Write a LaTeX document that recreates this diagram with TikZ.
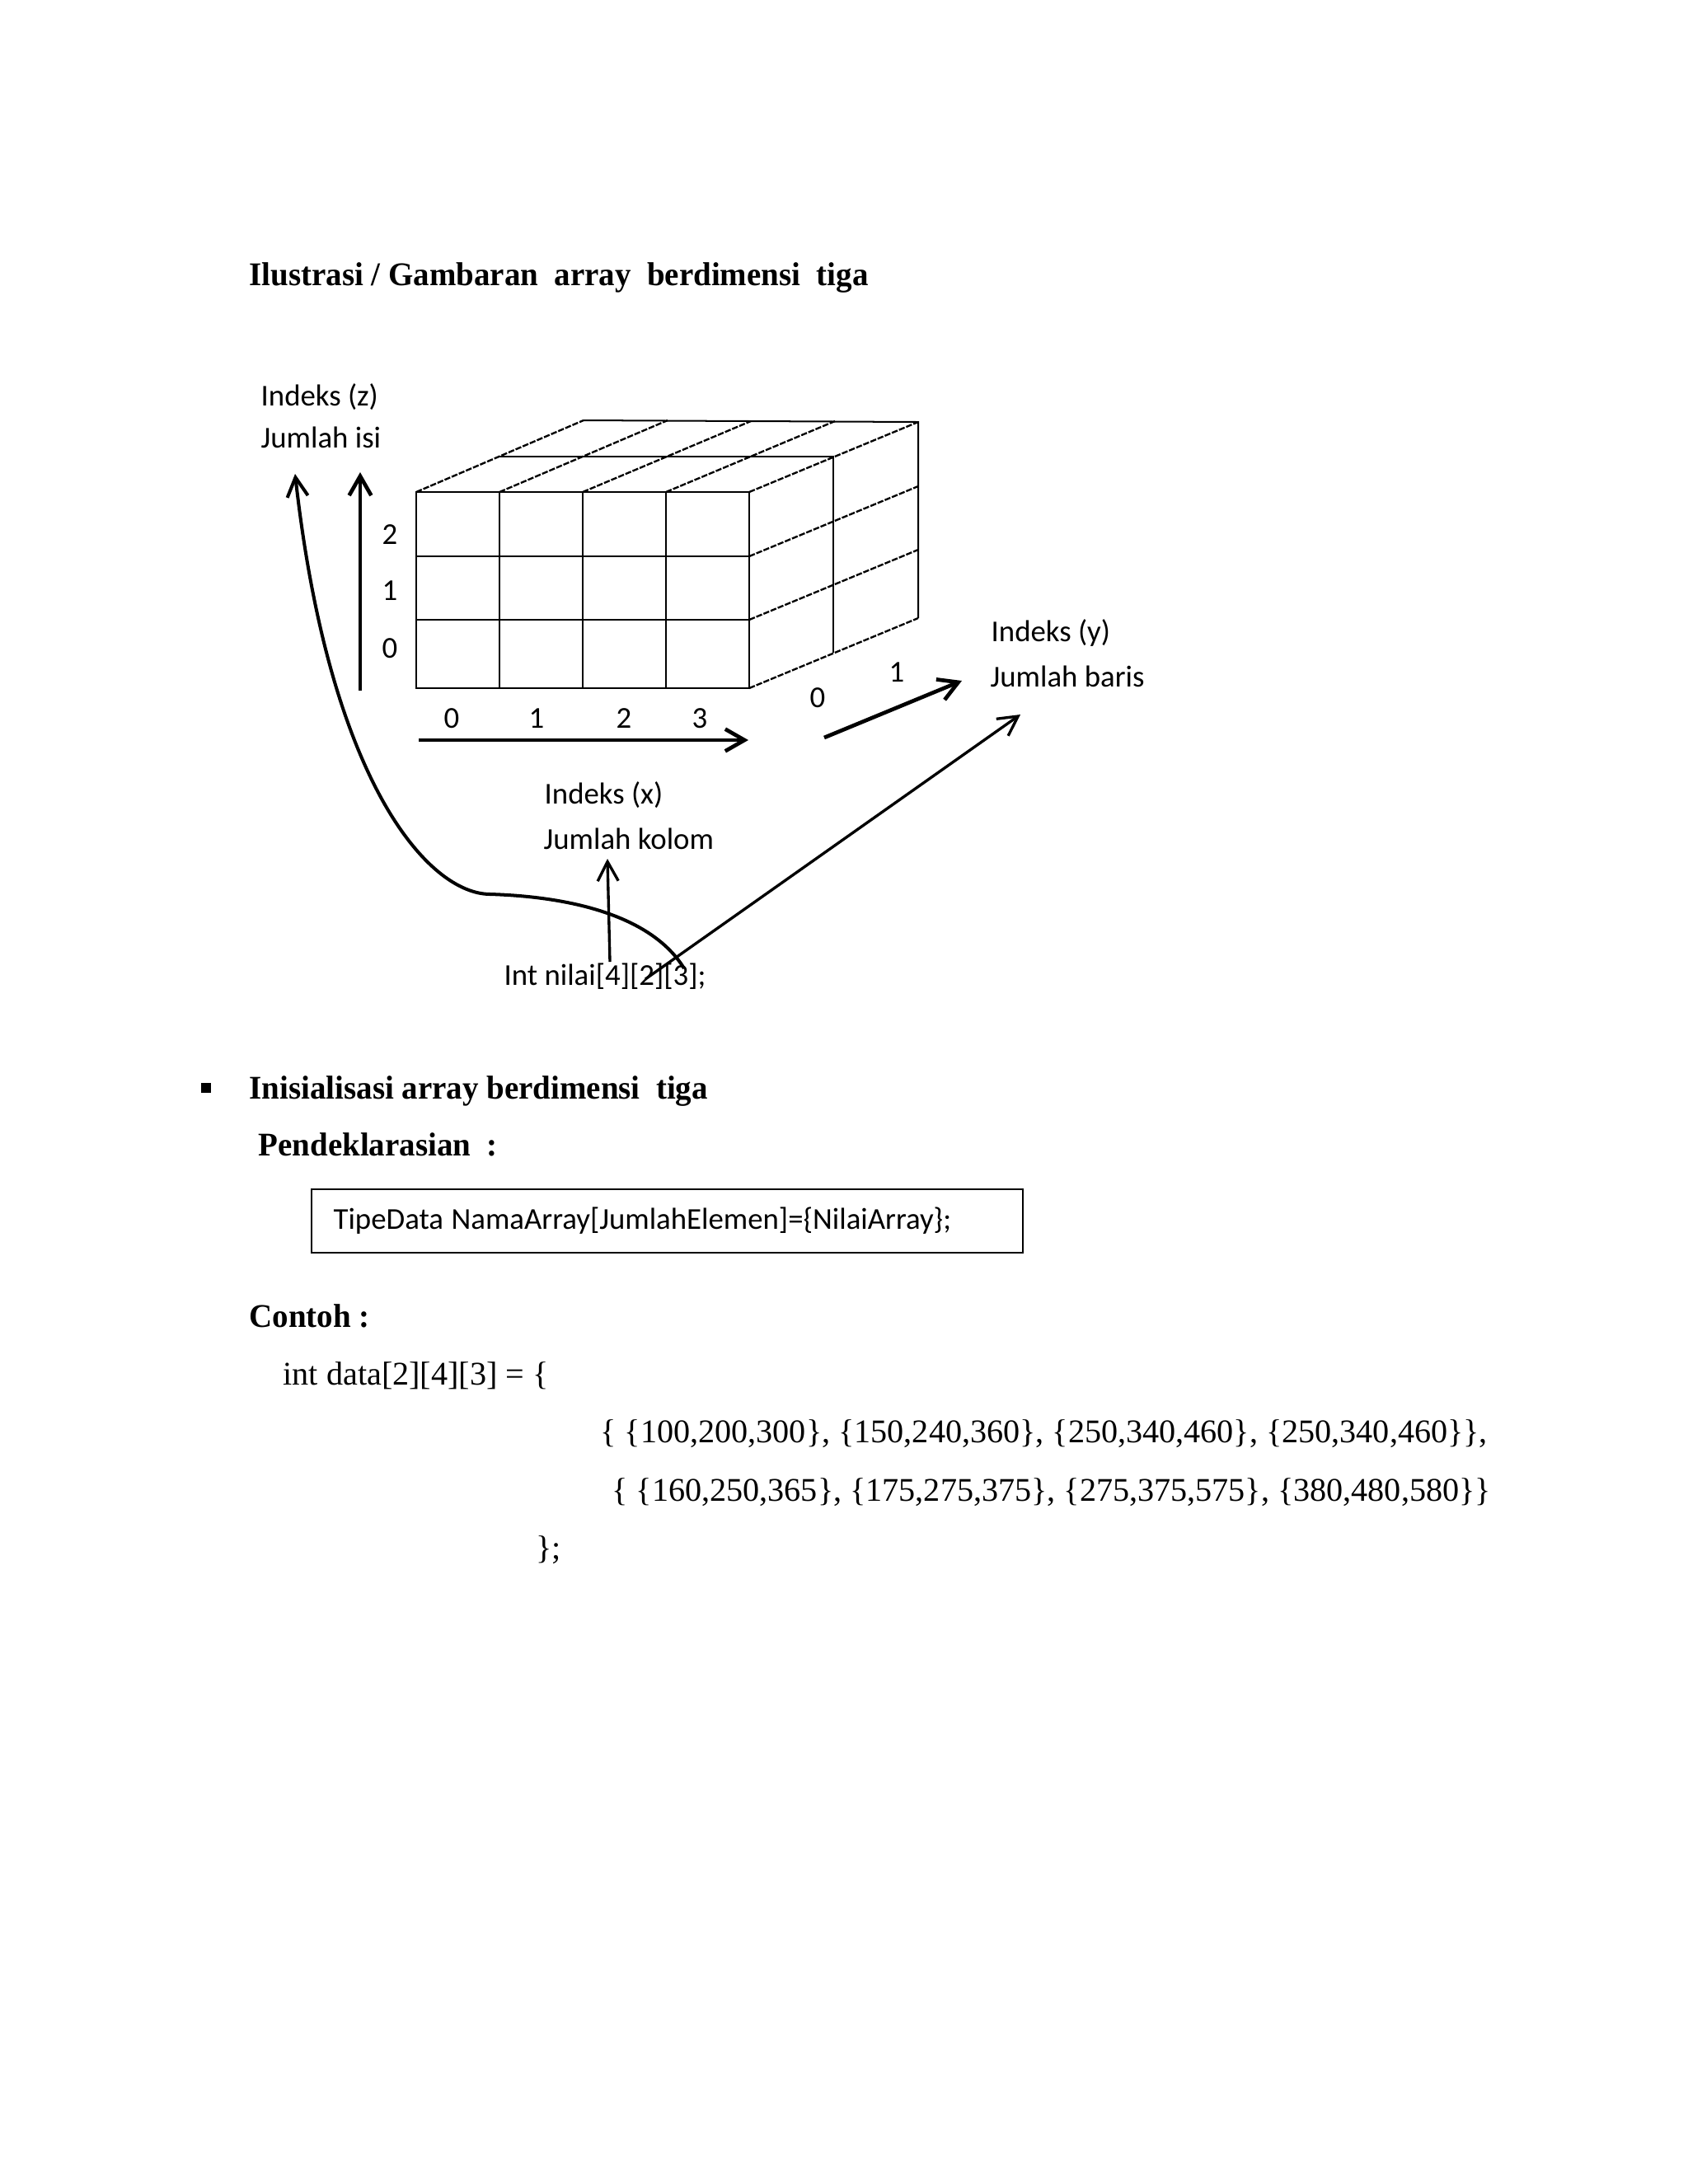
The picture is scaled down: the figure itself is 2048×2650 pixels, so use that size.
\documentclass[tikz,border=0pt]{standalone}
\usepackage{fontspec}
\setmainfont{Liberation Serif}
\newfontfamily\calibri{Carlito}
\newfontfamily\headfont{Liberation Serif}[FakeStretch=0.97]
\usetikzlibrary{arrows.meta}

\begin{document}
\begin{tikzpicture}[
x=0.29883pt, y=-0.29883pt,
lbl/.style={font=\calibri\fontsize{11}{13}\selectfont, inner sep=0pt, anchor=base west},
num/.style={font=\calibri\fontsize{11}{13}\selectfont, inner sep=0pt, anchor=base},
head/.style={font=\headfont\bfseries\fontsize{12}{14}\selectfont, inner sep=0pt, anchor=base west},
code/.style={font=\fontsize{12}{14}\selectfont, inner sep=0pt, anchor=base west},
cell/.style={line width=0.6pt},
hidden/.style={line width=0.7pt, dash pattern=on 2.2pt off 0.6pt},
arrow/.style={-{Straight Barb[length=7pt, width=8pt]}, line width=1.4pt},
pointer/.style={-{Straight Barb[length=7pt, width=7.5pt]}, line width=1pt}
]
\useasboundingbox[fill=white] (0,0) rectangle (2048,2650);

\node[head] (title) at (302,346) {Ilustrasi / Gambaran\ \ array\ \ berdimensi\ \ tiga};

% kubus: muka depan 4 x 3
\draw[cell] (505,597) rectangle (909,835);
\draw[cell] (606,597) -- (606,835) (707,597) -- (707,835) (808,597) -- (808,835);
\draw[cell] (505,675) -- (909,675) (505,752) -- (909,752);
% kubus: sisi atas dan samping
\draw[hidden] (505,597) -- (708,510) (606,597) -- (810,510) (707,597) -- (911,511)
  (808,597) -- (1013,511) (909,597) -- (1114,512);
\draw[hidden] (909,675) -- (1114,590) (909,752) -- (1114,667) (909,835) -- (1114,750);
\draw[cell] (606,554) -- (1011,554) -- (1011,792);
\draw[cell] (708,510) -- (1114,512) -- (1114,750);

% indeks
\node[num] (z0) at (473,798) {0};
\node[num] (z1) at (473,728) {1};
\node[num] (z2) at (473,660) {2};
\node[num] (x0) at (548,883) {0};
\node[num] (x1) at (651,883) {1};
\node[num] (x2) at (757,883) {2};
\node[num] (x3) at (849,883) {3};
\node[num] (y0) at (992,858) {0};
\node[num] (y1) at (1088,827) {1};

\node[lbl] (idxz) at (316,492) {Indeks (z)};
\node[lbl] (jmlz) at (316,543) {Jumlah isi};
\node[lbl] (idxx) at (660,975) {Indeks (x)};
\node[lbl] (jmlx) at (659,1030) {Jumlah kolom};
\node[lbl] (idxy) at (1202,778) {Indeks (y)};
\node[lbl] (jmly) at (1201,833) {Jumlah baris};
\node[lbl] (decl) at (611,1195) {Int nilai[4][2][3];};

\coordinate (zbot) at (437,838);
\coordinate (ztop) at (437,573);
\coordinate (xleft) at (508,898);
\coordinate (xright) at (908,898);
\coordinate (yleft) at (1000,895);
\coordinate (yright) at (1167,826);
\coordinate (isifoot) at (830,1175);
\coordinate (isitip) at (358,575);
\coordinate (kolomfoot) at (740,1167);
\coordinate (kolomtip) at (737,1042);
\coordinate (barisfoot) at (783,1188);
\coordinate (baristip) at (1238,867);

\draw[arrow] (zbot) -- (ztop);
\draw[arrow] (xleft) -- (xright);
\draw[arrow] (yleft) -- (yright);
\draw[pointer] (kolomfoot) -- (kolomtip);
\draw[pointer] (barisfoot) -- (baristip);
\draw[pointer, line width=1.2pt] (isifoot) .. controls (790,1110) and (690,1088) .. (595,1085)
  .. controls (520,1085) and (400,950) .. (isitip);

% inisialisasi
\node[fill=black, inner sep=0pt, minimum size=3.5pt] (bullet) at (250,1320) {};
\node[head] (init) at (302,1333) {Inisialisasi array berdimensi\ \ tiga};
\node[head] (pend) at (313,1402) {Pendeklarasian\ \ :};
\node[draw, line width=0.6pt, anchor=north west, minimum width=257.9pt, minimum height=23pt,
  text width=242pt, inner xsep=7.9pt, inner ysep=0pt, font=\calibri\fontsize{11}{13}\selectfont]
  (syntax) at (377,1442) {TipeData\hspace{-0.8pt} NamaArray[JumlahElemen]=\{NilaiArray\};};

\node[head] (contoh) at (302,1610) {Contoh :};
\node[code] (line0) at (343,1680) {int data[2][4][3] = \{};
\node[code] (line1) at (728,1750) {\{ \{100,200,300\}, \{150,240,360\}, \{250,340,460\}, \{250,340,460\}\},};
\node[code] (line2) at (742,1821) {\{ \{160,250,365\}, \{175,275,375\}, \{275,375,575\}, \{380,480,580\}\}};
\node[code] (line3) at (650,1891) {\};};
\end{tikzpicture}
\end{document}
